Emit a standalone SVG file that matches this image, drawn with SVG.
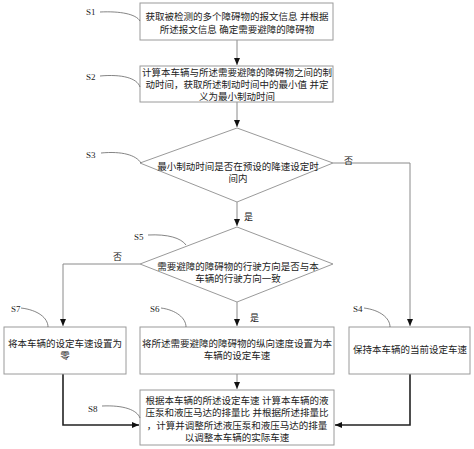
<svg xmlns="http://www.w3.org/2000/svg" width="474" height="449" viewBox="0 0 474 449">
<defs>
<marker id="ah" markerWidth="8" markerHeight="8" refX="7" refY="4" orient="auto" markerUnits="userSpaceOnUse">
<path d="M0,1 L7,4 L0,7 Z" fill="#111"/>
</marker>
<style>
.box{fill:#fff;stroke:#9a9a9a;stroke-width:1}
.t{font-family:"Liberation Serif","Noto Sans CJK SC",serif;font-size:9.5px;fill:#222;text-anchor:middle}
.lbl{font-family:"Liberation Serif","Noto Sans CJK SC",serif;font-size:9px;fill:#222}
.c{fill:none;stroke:#8a8a8a;stroke-width:1}
.cb{fill:none;stroke:#222;stroke-width:1.6}
.lead{fill:none;stroke:#666;stroke-width:0.8}
</style>
</defs>
<rect width="474" height="449" fill="#fff"/>
<g id="connectors">
<path class="c" d="M237,40 V65" marker-end="url(#ah)"/>
<path class="c" d="M237,102 V127" marker-end="url(#ah)"/>
<path class="c" d="M237,202 V226" marker-end="url(#ah)"/>
<path class="c" d="M237,302 V326" marker-end="url(#ah)"/>
<path class="c" d="M333,163 H410 V326" marker-end="url(#ah)"/>
<path class="c" d="M140,264 H63 V326" marker-end="url(#ah)"/>
<path class="c" d="M237,374 V389" marker-end="url(#ah)"/>
<path class="cb" d="M63,374 V425 H139" marker-end="url(#ah)"/>
<path class="cb" d="M410,374 V425 H335" marker-end="url(#ah)"/>
<text class="lbl" x="344" y="164">否</text>
<text class="lbl" x="244" y="220">是</text>
<text class="lbl" x="113" y="260">否</text>
<text class="lbl" x="250" y="321">是</text>
</g>
<g id="S1">
<rect class="box" x="140" y="3" width="193" height="37"/>
<text class="t" x="237" y="20">获取被检测的多个障碍物的报文信息 并根据</text>
<text class="t" x="237" y="33">所述报文信息  确定需要避障的障碍物</text>
<text class="lbl" x="86" y="15">S1</text>
<path class="lead" d="M100,12 C120,11 136,14 140,21"/>
</g>
<g id="S2">
<rect class="box" x="140" y="66" width="193" height="36"/>
<text class="t" x="237" y="76">计算本车辆与所述需要避障的障碍物之间的制</text>
<text class="t" x="237" y="88">动时间，获取所述制动时间中的最小值 并定</text>
<text class="t" x="237" y="100">义为最小制动时间</text>
<text class="lbl" x="86" y="80">S2</text>
<path class="lead" d="M100,76 C122,74 137,78 140,87"/>
</g>
<g id="S3">
<polygon class="box" points="237,128 333,163 237,202 140,163"/>
<text class="t" x="238" y="170">最小制动时间是否在预设的降速设定时</text>
<text class="t" x="238" y="182">间内</text>
<text class="lbl" x="86" y="158">S3</text>
<path class="lead" d="M101,153 C122,151 136,155 141,163"/>
</g>
<g id="S5">
<polygon class="box" points="237,227 333,264 237,302 140,264"/>
<text class="t" x="238" y="270">需要避障的障碍物的行驶方向是否与本</text>
<text class="t" x="238" y="282">车辆的行驶方向一致</text>
<text class="lbl" x="134" y="240">S5</text>
<path class="lead" d="M148,235 C168,234 181,238 186,245"/>
</g>
<g id="S7">
<rect class="box" x="4" y="327" width="122" height="47"/>
<text class="t" x="65" y="347">将本车辆的设定车速设置为</text>
<text class="t" x="65" y="359">零</text>
<text class="lbl" x="11" y="312">S7</text>
<path class="lead" d="M21,308 C38,310 48,318 48,327"/>
</g>
<g id="S6">
<rect class="box" x="140" y="327" width="194" height="47"/>
<text class="t" x="237" y="347">将所述需要避障的障碍物的纵向速度设置为本</text>
<text class="t" x="237" y="359">车辆的设定车速</text>
<text class="lbl" x="150" y="312">S6</text>
<path class="lead" d="M161,308 C176,310 186,318 186,327"/>
</g>
<g id="S4">
<rect class="box" x="349" y="327" width="121" height="47"/>
<text class="t" x="410" y="353">保持本车辆的当前设定车速</text>
<text class="lbl" x="353" y="312">S4</text>
<path class="lead" d="M364,308 C380,310 390,318 390,327"/>
</g>
<g id="S8">
<rect class="box" x="140" y="390" width="194" height="55"/>
<text class="t" x="237" y="404">根据本车辆的所述设定车速 计算本车辆的液</text>
<text class="t" x="237" y="416">压泵和液压马达的排量比 并根据所述排量比</text>
<text class="t" x="237" y="429">，计算并调整所述液压泵和液压马达的排量</text>
<text class="t" x="237" y="441">以调整本车辆的实际车速</text>
<text class="lbl" x="88" y="412">S8</text>
<path class="lead" d="M102,406 C124,405 137,410 140,418"/>
</g>
</svg>
